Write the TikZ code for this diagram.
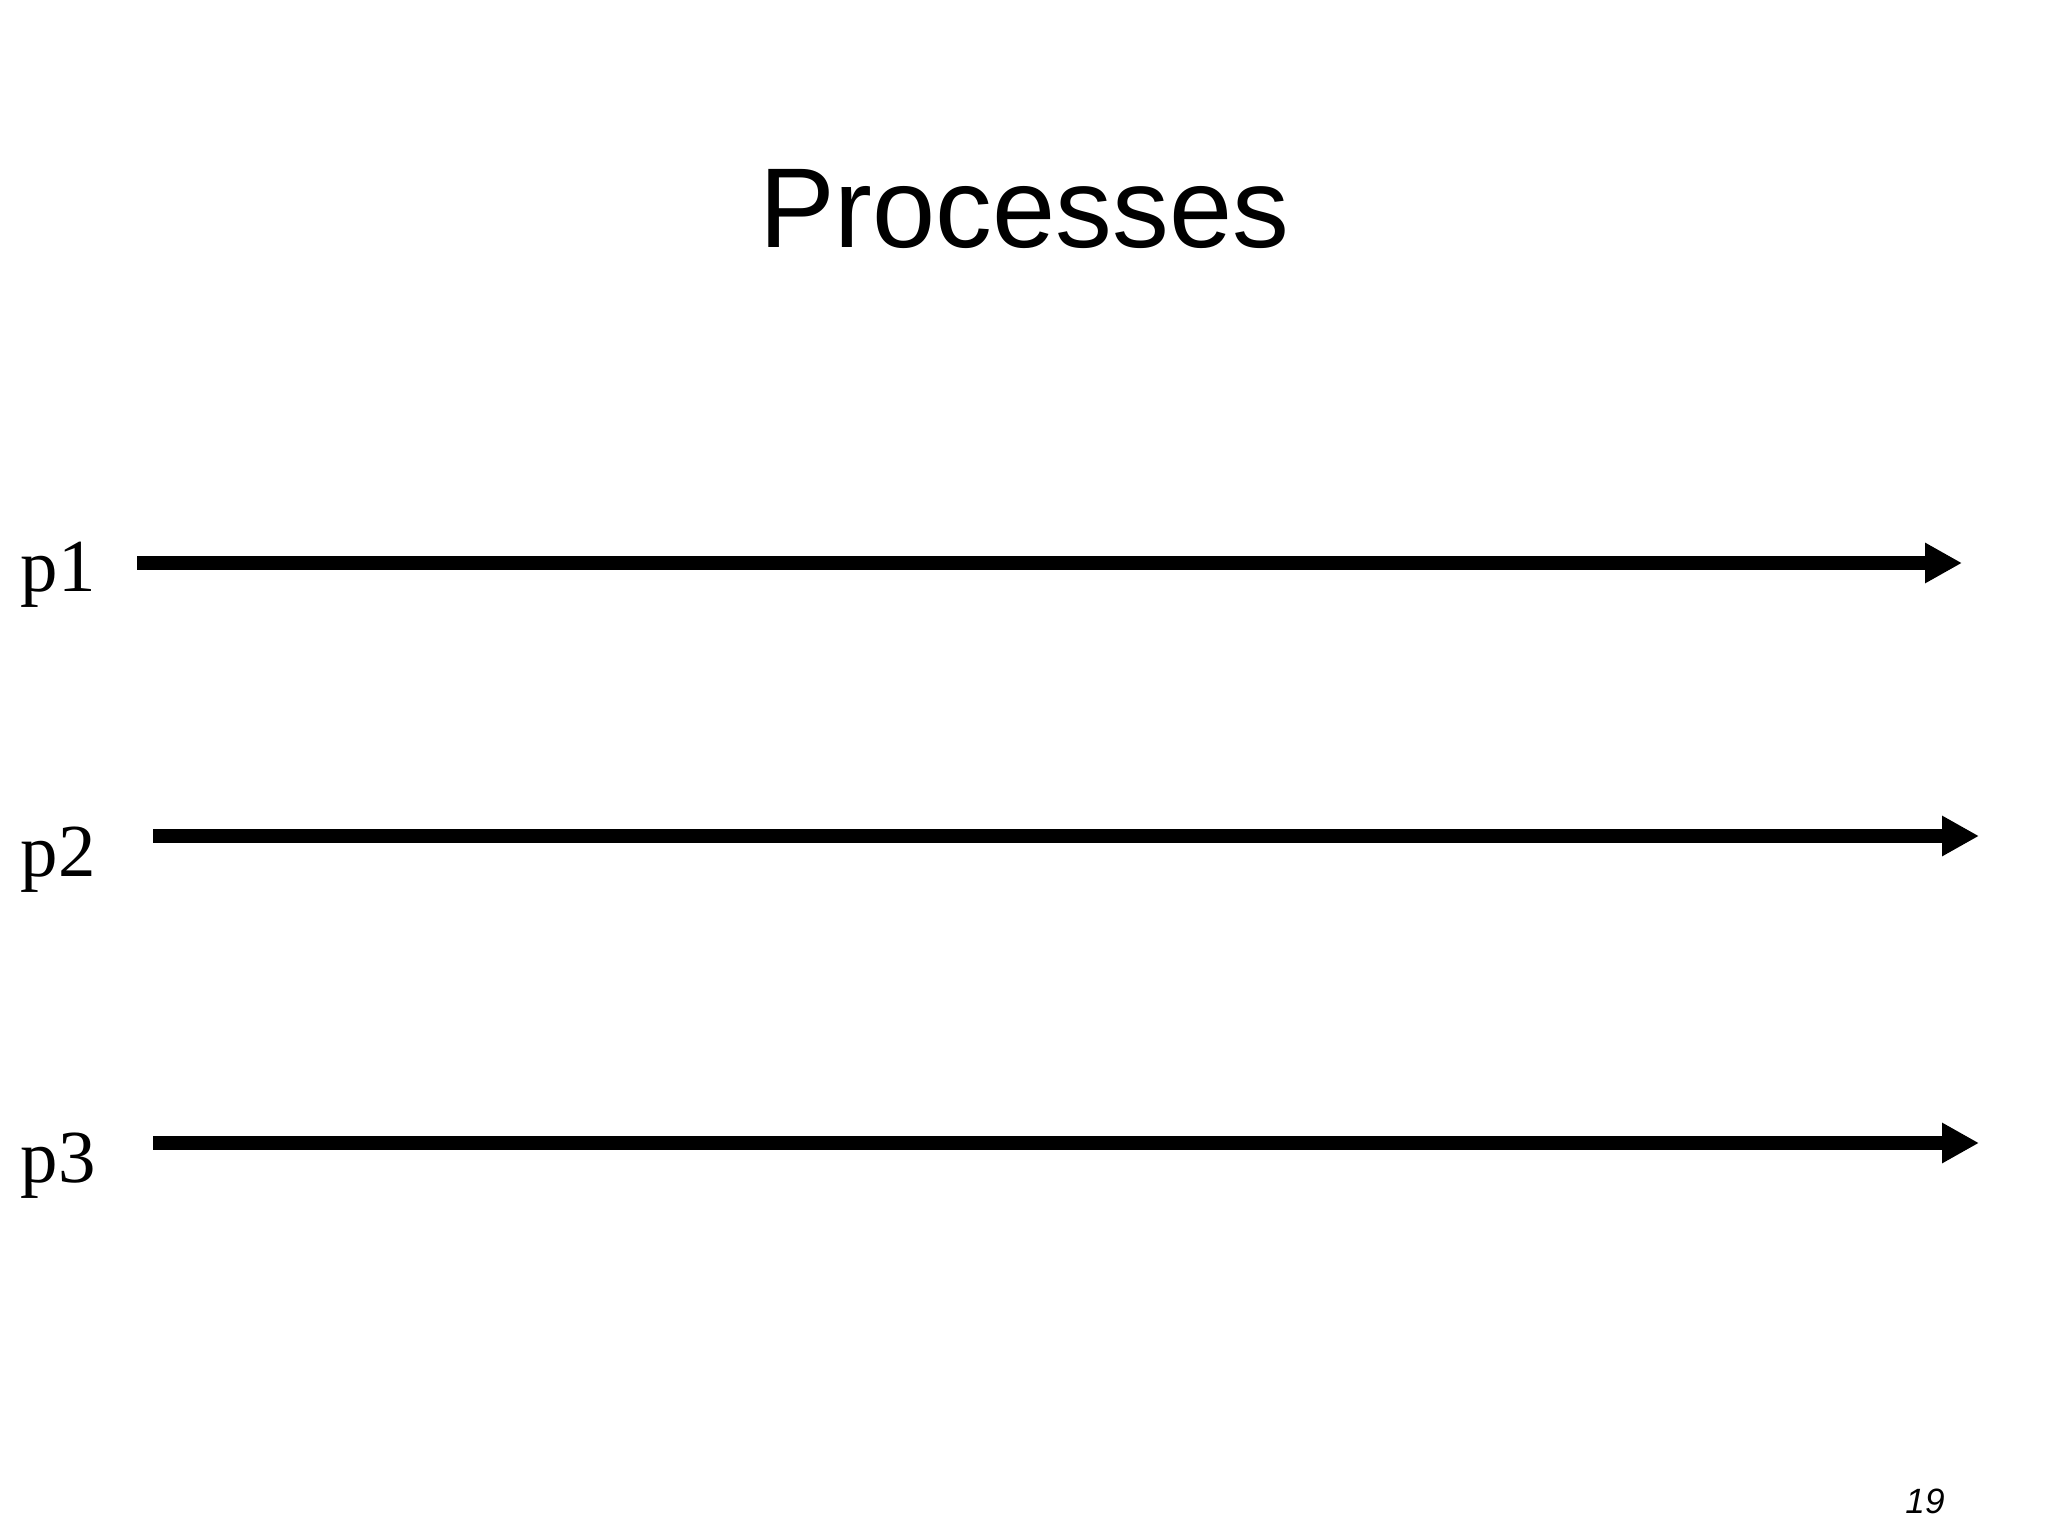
\documentclass[tikz,border=0pt]{standalone}
\usepackage{fontspec}
\setmainfont{Liberation Serif}
\newfontfamily\titlefont{Liberation Sans}
\usetikzlibrary{arrows.meta}
\tikzset{
	proclabel/.style={anchor=base west, inner sep=0pt, font=\fontsize{21.3}{24}\selectfont},
	procline/.style={->, line width=3.7pt}
}
\begin{document}
\begin{tikzpicture}[>={Triangle[length=3.7mm, width=3.8mm]}]
		\useasboundingbox (0, 0) rectangle (20.48, -15.36);
		\node[anchor=base, inner sep=0pt, font=\titlefont\fontsize{32.3}{37}\selectfont] (title) at (10.24, -2.48) {Processes};
		\node[proclabel] (p1) at (0.20, -5.91) {p1};
		\node[proclabel] (p2) at (0.20, -8.76) {p2};
		\node[proclabel] (p3) at (0.20, -11.82) {p3};
		\draw[procline] (1.37, -5.63) coordinate (s1) -- (19.62, -5.63) coordinate (e1);
		\draw[procline] (1.53, -8.36) coordinate (s2) -- (19.79, -8.36) coordinate (e2);
		\draw[procline] (1.53, -11.43) coordinate (s3) -- (19.79, -11.43) coordinate (e3);
		\node[anchor=base, inner sep=0pt, font=\titlefont\itshape\fontsize{10}{12}\selectfont] (page) at (19.25, -15.13) {19};
		\end{tikzpicture}
\end{document}
